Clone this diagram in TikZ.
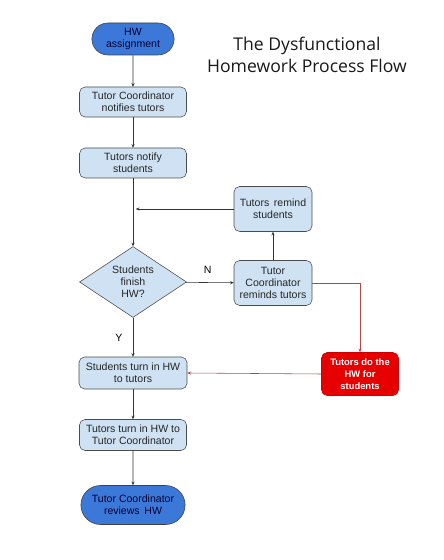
\documentclass[tikz,border=0pt]{standalone}
\usepackage{fontspec}
\setmainfont{Liberation Sans}
\newfontfamily\titlefont{Open Sans}
\usetikzlibrary{shapes.geometric,shapes.misc,arrows.meta}
\definecolor{boxblue}{HTML}{CFE2F3}
\definecolor{darkblue}{HTML}{3C78D8}
\definecolor{boxred}{HTML}{E60000}
\definecolor{linered}{HTML}{B0474A}
\tikzset{
  stepbox/.style={draw=black!70, fill=boxblue, rounded corners=4pt, align=center,
    font=\fontsize{7.5}{8.6}\selectfont, inner sep=1pt, text=black!85},
  endbox/.style={draw=black!75, fill=darkblue, rounded rectangle, align=center,
    font=\fontsize{7.5}{8.6}\selectfont, inner sep=1pt, text=blue!20!black},
  askbox/.style={draw=black!70, fill=boxblue, diamond, aspect=1.5, inner sep=0pt, align=center,
    font=\fontsize{7.5}{8.6}\selectfont, text=black!85},
  redbox/.style={draw=red!80!black, fill=boxred, rounded corners=4pt, align=center,
    font=\bfseries\fontsize{6.7}{8.6}\selectfont, inner sep=1pt, text=white},
  flow/.style={draw=black!80, thin, -{Stealth[length=2.5pt,width=2.2pt]}},
  redflow/.style={draw=linered, thin, -{Stealth[length=2.5pt,width=2.2pt]}}
}
\begin{document}
\begin{tikzpicture}
\useasboundingbox (0,0) rectangle (11.075,14);
%\draw [lightgray](0,0) grid (11,14);

\node [endbox, minimum width=2.125cm, minimum height=0.8cm] (hw) at (3.325,13.025) {HW\\assignment};
\node [stepbox, minimum width=2.675cm, minimum height=0.75cm] (notify) at (3.325,11.45) {Tutor Coordinator\\notifies tutors};
\node [stepbox, minimum width=2.675cm, minimum height=0.75cm] (notstud) at (3.325,9.925) {Tutors notify\\students};
\node [askbox, minimum width=2.675cm, minimum height=1.775cm] (ask) at (3.325,6.95) {Students\\finish\\HW?};
\node [stepbox, minimum width=1.95cm, minimum height=1.125cm] (remind) at (6.825,8.775) {Tutors\, remind\\students};
\node [stepbox, minimum width=1.95cm, minimum height=1.125cm] (remtut) at (6.825,6.925) {Tutor\\Coordinator\\reminds tutors};
\node [redbox, minimum width=1.925cm, minimum height=1.075cm] (dohw) at (9.0,4.65) {Tutors do the\\HW for\\students};
\node [stepbox, minimum width=2.7cm, minimum height=0.8cm] (turnin) at (3.325,4.675) {Students turn in HW\\to tutors};
\node [stepbox, minimum width=2.675cm, minimum height=0.775cm] (turnco) at (3.325,3.125) {Tutors turn in HW to\\Tutor Coordinator};
\node [endbox, minimum width=2.675cm, minimum height=0.975cm] (review) at (3.325,1.375) {Tutor Coordinator\\reviews\, HW};

\node [align=center, font=\titlefont\fontsize{12.5}{15.6}\selectfont, text=black!90] (title) at (7.675,12.62) {The Dysfunctional\\Homework Process Flow};

\draw [flow] (hw) -- (notify);
\draw [flow] (notify) -- (notstud);
\draw [flow] (notstud) -- (ask);
\draw [flow] (ask) -- node [above, font=\fontsize{7.5}{9}\selectfont, pos=0.45, yshift=3pt] (nlab) {N} (remtut);
\draw [flow] (remtut) -- (remind);
\draw [flow, shorten >=2pt] (remind.west) -- (remind.west -| notstud.south);
\draw [flow] (ask) -- node [left, font=\fontsize{7.5}{9}\selectfont, pos=0.52, xshift=-4pt] (ylab) {Y} (turnin);
\draw [redflow] (remtut.east) -| (dohw.north);
\draw [redflow] (dohw.west) -- (turnin.east);
\draw [flow] (turnin) -- (turnco);
\draw [flow] (turnco) -- (review);
\end{tikzpicture}
\end{document}
